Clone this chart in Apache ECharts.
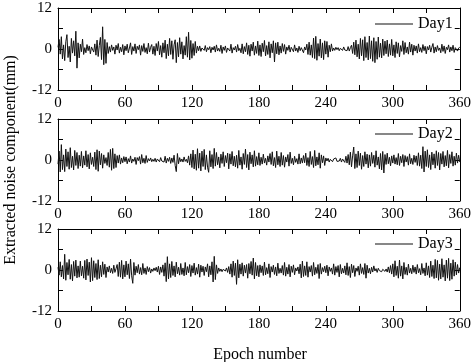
<!DOCTYPE html>
<html>
<head>
<meta charset="utf-8">
<script src="https://cdn.jsdelivr.net/npm/echarts@6/dist/echarts.min.js"></script>
<style>html,body{margin:0;padding:0;background:#fff}#c{width:474px;height:362px}</style>
</head>
<body>
<div id="c"></div>
<script>
const seriesNames = ['Day1', 'Day2', 'Day3'];
const xTickLabels = [0, 60, 120, 180, 240, 300, 360];
const yTickLabels = [-12, 0, 12];
const yTitle = 'Extracted noise component(mm)';
const xTitle = 'Epoch number';

const day1 = [
0.5, 2.8, -1.5, 3.6, -2.9, 1.2, -3.4, 2.1, 4.2, -2.5, 0.8, -3.8, 3.1, -1.2, 2.4, -2.0, 5.2, -5.6, 1.8, -2.6,
1.4, -0.8, 2.9, -1.6, 0.4, -1.1, 1.3, -0.5, 0.9, -1.4, 0.6, 0.2, -0.9, 1.5, -1.8, 2.6, -2.2, 1.0, 3.4, -3.1,
6.5, -4.6, 2.8, -4.2, 1.9, -1.3, 0.7, -0.9, 1.2, -0.4, 0.6, -1.5, 1.1, -0.3, 1.6, -1.2, 0.5, -0.8, 1.3, -1.7,
0.9, -0.5, 1.4, -1.1, 0.3, 1.8, -1.6, 0.7, -0.6, 1.5, -1.3, 0.8, -0.2, 1.2, -1.8, 1.0, -0.7, 1.6, -1.0, 0.4,
-1.4, 1.7, -0.9, 0.5, 1.3, -1.5, 0.8, -1.9, 1.6, -0.6, 2.2, -1.7, 1.0, -2.4, 1.8, -1.1, 2.6, -2.8, 1.4, -2.0,
3.1, -1.6, 2.4, -3.0, 1.2, 2.7, -4.0, 1.9, -2.3, 3.3, -1.5, 2.1, -2.9, 1.0, -1.8, 3.6, -2.4, 4.9, -3.2, 2.5,
-2.7, 1.6, -1.9, 2.2, -1.2, 0.8, -0.5, 0.9, -0.7, 0.3, 0.6, -0.4, 1.0, -0.8, 0.4, -0.2, 0.7, -1.1, 0.5, -0.3,
0.8, -0.9, 1.2, -0.6, 0.2, -0.7, 1.1, -1.3, 0.6, -0.4, 0.9, -1.0, 0.3, 0.5, -0.6, 1.4, -1.2, 0.4, -0.3, 0.8,
-0.9, 1.3, -0.5, 0.2, -1.1, 1.5, -1.4, 0.7, -0.8, 1.8, -1.6, 1.1, -2.1, 1.4, -0.6, 2.0, -1.8, 0.9, -1.3, 2.3,
-1.9, 1.2, -2.2, 1.7, -0.8, 2.5, -2.0, 1.0, -1.6, 2.1, -2.6, 1.5, -1.1, 2.4, -3.8, 1.8, -1.4, 2.0, -1.7, 0.9,
-1.2, 1.6, -0.7, 1.3, -1.5, 0.6, -0.4, 1.1, -0.9, 0.5, 0.2, -0.8, 1.2, -0.6, 0.3, -1.0, 0.8, -0.5, 0.4, 0.9,
-1.1, 0.6, -0.3, 1.4, -1.6, 2.0, -1.8, 1.2, -2.5, 3.2, -2.8, 3.7, -3.3, 1.6, -2.1, 2.9, -2.6, 1.8, -3.1, 2.4,
-1.5, 2.2, -2.4, 1.1, -0.8, 1.5, -0.6, 0.3, -0.4, 0.5, -0.2, 0.4, -0.5, 0.2, 0.3, -0.4, 0.6, -0.3, 0.1, -0.5,
0.7, -0.6, 0.4, 1.1, -1.3, 2.0, -1.7, 2.6, -2.3, 1.4, -2.9, 3.1, -2.0, 2.7, -3.4, 3.6, -2.5, 1.9, -3.2, 3.8,
-2.8, 2.4, -3.6, 3.3, -4.0, 2.2, -3.0, 3.5, -2.4, 1.7, -2.6, 2.9, -1.9, 2.3, -1.4, 2.6, -2.2, 1.5, -1.8, 2.8,
-2.0, 1.2, -2.5, 2.1, -1.3, 1.8, -2.3, 1.0, -0.7, 2.4, -1.6, 1.9, -1.1, 0.6, -1.5, 2.0, -0.9, 1.4, -1.8, 1.1,
-0.6, 0.9, -1.2, 1.5, -0.8, 0.4, -1.0, 1.3, -0.5, 0.8, -1.4, 0.7, -0.3, 1.1, -0.9, 0.5, 1.6, -1.2, 0.6, -0.8,
1.0, -0.4, 0.3, -1.1, 1.4, -0.7, 0.9, -1.3, 0.5, -0.2, 1.2, -0.9, 0.6, -0.5, 1.1, -1.0, 0.4, 0.8, -0.6, 0.3, 0.5
];

const day2 = [
-1.2, 2.6, -3.5, 4.5, -2.8, 1.5, -3.4, 3.2, -1.9, 2.4, -2.7, 3.6, -2.2, 1.1, -2.9, 2.8, -1.6, 2.2, -2.5, 1.4,
-1.8, 2.5, -2.3, 1.2, -1.5, 2.7, -2.0, 1.6, -2.6, 2.1, -1.3, 0.8, -1.9, 2.3, -2.8, 3.0, -3.3, 2.6, -1.4, 1.9,
-2.4, 1.5, -1.0, 0.7, -1.6, 2.2, -2.1, 3.1, -3.0, 3.4, -2.5, 1.8, -2.2, 1.3, -0.9, 1.5, -1.2, 0.6, -0.8, 1.0,
-0.5, 0.9, -1.1, 0.4, -0.6, 1.2, -0.9, 0.3, -0.4, 0.8, -1.3, 0.7, -0.2, 1.0, -1.2, 1.6, -0.8, 0.5, -1.0, 1.3,
-0.7, 0.4, -0.3, 0.6, -0.5, 0.2, -0.4, 0.5, -0.6, 0.3, 0.4, -0.5, 0.7, -0.3, 0.2, -0.6, 1.1, -0.9, 0.5, -0.4,
0.8, -1.0, 0.6, -0.7, 1.4, -1.6, -3.4, 1.9, -1.1, 0.7, -0.5, 0.3, -0.6, 0.9, -0.4, 0.2, -0.8, 1.2, -1.5, 1.8,
-2.2, 2.9, -2.6, 1.7, -3.0, 3.3, -2.4, 2.0, -3.2, 2.6, -1.9, 3.1, -2.8, 1.5, -2.1, -3.6, 2.7, -2.0, 1.6, -2.5,
3.4, -1.8, 2.2, -1.4, 0.9, -2.3, 1.7, -1.0, 2.4, -1.9, 1.3, -0.8, 2.0, -2.6, 1.8, -1.2, 2.5, -1.7, 1.1, -2.0,
1.4, -2.4, 2.8, -1.5, 0.9, -2.7, 1.9, -1.3, 3.2, -2.2, 1.6, -2.9, 2.3, -1.1, 1.5, -2.0, 2.7, -1.8, 1.0, -1.4,
2.1, -1.6, 0.8, -1.2, 1.7, -0.9, 0.5, -1.5, 1.2, -0.6, 1.9, -1.3, 2.4, -1.7, 0.7, -2.2, 2.6, -1.4, 1.1, -1.9,
2.2, -1.5, 1.3, -2.1, 0.9, -0.6, 1.6, -1.8, 2.3, -1.0, 0.5, -1.4, 1.1, -0.7, 0.4, -1.2, 1.8, -1.1, 0.6, -0.9,
1.3, -0.8, 2.0, -1.6, 0.7, -1.9, 2.5, -1.3, 1.0, -2.2, 2.8, -1.7, 0.9, -1.4, 2.1, -2.4, 1.5, -0.8, 1.2, -1.6,
0.6, -0.3, 0.5, -0.6, 0.2, 0.4, -0.5, 0.3, -0.2, 0.6, -0.4, 0.1, -0.3, 0.5, -0.6, 0.3, 0.8, -0.7, 1.1, -0.9,
1.6, -1.4, 2.3, -2.0, 1.2, 3.8, -2.5, 1.8, -2.2, 2.6, -1.6, 2.0, -2.7, 1.3, -1.9, 2.4, -1.2, 1.7, -2.3, 1.5,
-1.8, 2.2, -1.0, 1.4, -2.1, 2.7, -1.5, 0.9, -2.6, 1.9, -2.9, 2.5, -3.8, 1.6, -1.3, 2.0, -1.1, 0.8, -1.7, 1.2,
-0.9, 1.5, -1.2, 0.7, -1.4, 1.9, -1.6, 1.1, -0.8, 1.6, -1.9, 1.3, -0.6, 1.0, -1.5, 1.8, -1.1, 0.5, -1.3, 1.4,
-0.7, 1.2, -1.6, 2.1, -1.8, 1.4, -2.5, 3.9, -3.5, 2.6, -1.9, 3.0, -2.2, 1.5, -2.8, 2.3, -1.4, 1.8, -2.4, 2.7,
-1.6, 2.2, -2.9, 1.9, -1.2, 2.5, -2.0, 1.3, -1.7, 2.8, -2.3, 1.6, -1.0, 2.4, -1.8, 1.1, -1.5, 2.0, -0.9, 1.4, -0.6
];

const day3 = [
0.8, -1.5, 2.4, -2.0, 1.3, -2.6, 4.6, -3.0, 2.2, -1.4, 3.1, -2.7, 1.6, -3.2, 2.5, -1.8, 2.9, -2.3, 1.2, -2.1,
2.6, -1.7, 1.1, -2.4, 2.8, -2.9, 3.2, -1.6, 2.3, -3.5, 3.6, -3.1, 2.7, -2.2, 1.9, -2.8, 3.0, -2.5, 1.4, -2.0,
2.4, -1.3, 1.7, -2.2, 0.9, -0.6, 1.2, -0.8, 0.5, -1.0, 1.4, -0.7, 0.4, 1.6, -1.9, 2.3, -2.1, 2.8, -2.6, 1.5,
-2.0, 2.6, -1.4, 1.8, -2.5, 3.2, -1.7, -3.9, 2.2, -1.5, 1.1, -0.8, 1.6, -1.2, 0.7, -1.4, 1.9, -1.0, 0.6, -1.3,
1.0, -0.5, 0.7, -0.9, 0.3, -0.4, 0.6, -0.2, 0.8, -0.6, 1.1, -1.3, 0.9, -0.7, 1.5, -1.8, 2.1, -3.4, 3.9, -2.6,
1.8, -2.2, 2.5, -1.6, 1.2, -2.0, 2.3, -1.1, 0.8, -1.5, 1.9, -1.3, 0.6, -1.7, 2.2, -1.4, 1.0, -0.8, 1.6, -1.9,
1.3, -0.9, 2.0, -1.5, 0.7, -1.2, 1.7, -2.1, 1.4, -0.6, 1.1, -1.6, 0.9, -0.5, 1.8, -2.0, 1.2, -1.4, 2.4, -3.5,
4.0, -2.8, 1.5, -1.0, 0.6, -0.4, 0.3, -0.5, 0.2, 0.4, -0.3, 0.6, -0.7, 1.0, -1.2, 1.8, -2.1, 2.6, -1.6, 2.0,
-4.2, 3.0, -2.3, 1.7, -1.2, 2.1, -1.8, 1.4, -0.9, 1.6, -2.4, 1.9, -1.1, 2.5, -1.5, 3.5, -2.6, 2.2, -1.7, 1.3,
-2.0, 1.5, -0.8, 1.2, -1.6, 2.3, -1.4, 0.7, -1.1, 1.8, -2.2, 1.0, -0.6, 1.4, -1.3, 0.9, -1.7, 2.0, -1.0, 0.5,
-0.9, 1.3, -1.5, 2.2, -1.8, 0.8, -1.2, 1.6, -2.0, 1.1, -0.7, 1.5, -1.4, 0.6, -0.3, 0.9, -1.1, 1.7, -2.3, 2.6,
-1.9, 1.2, -1.6, 2.4, -2.1, 1.0, -0.6, 1.3, -1.8, 2.2, -1.4, 0.8, -1.0, 1.6, -2.5, 1.9, -1.2, 0.7, -0.5, 1.1,
-0.8, 1.4, -1.7, 0.9, -0.4, 0.6, -1.2, 1.8, -1.5, 1.0, -0.7, 1.3, -2.0, 1.6, -1.1, 0.5, -0.9, 1.2, -1.4, 2.1,
-1.6, 1.0, -2.2, 1.7, -0.8, 1.3, -1.9, 0.6, -0.4, 1.1, -1.5, 1.8, -1.0, 0.7, -1.3, 1.9, -2.4, 1.4, -0.9, 0.5,
-1.1, 0.8, -0.6, 1.2, -0.3, 0.4, -0.7, 0.5, -0.2, 0.3, -0.5, 0.2, 0.6, -0.4, 0.3, -0.6, 0.9, -0.8, 1.3, -1.2,
1.8, -2.0, 2.7, -1.6, 1.1, -2.4, 2.9, -1.8, 1.2, -2.6, 2.2, -1.3, 0.8, -1.5, 1.7, -0.9, 0.5, -1.1, 1.4, -0.7,
0.9, -1.2, 1.6, -0.8, 0.4, -1.4, 1.9, -1.0, 0.6, -1.7, 2.1, -1.5, 1.2, -2.2, 2.6, -1.9, 1.4, -2.5, 3.1, -2.3,
2.8, -3.0, 1.7, -2.6, 3.3, -2.1, 1.5, -3.2, 2.9, -2.4, 3.4, -3.1, 2.0, -2.7, 3.0, -1.8, 2.3, -1.4, 1.6, -0.9, 0.7
];

const allDays = [day1, day2, day3];
const FONT = 'Liberation Serif';
const gridTops = [8, 119, 229];
const legendTops = [11, 121, 231];
const GRID_H = 82;

const chart = echarts.init(document.getElementById('c'), null, {renderer: 'canvas'});

const grids = [], xAxes = [], yAxes = [], series = [], legends = [];
const axLine = {show: true, onZero: false, lineStyle: {color: '#000', width: 1}};
const tick = {show: true, inside: true, length: 5, lineStyle: {color: '#000', width: 1}};

gridTops.forEach((top, i) => {
  grids.push({left: 58, right: 10, top: top, height: GRID_H, containLabel: false});
  xAxes.push({
    type: 'value', gridIndex: i, position: 'bottom', min: 0, max: 360, interval: 30,
    axisLine: axLine, axisTick: tick, splitLine: {show: false},
    axisLabel: {
      show: true, margin: 6, color: '#000', fontFamily: FONT, fontSize: 15,
      formatter: v => xTickLabels.indexOf(v) >= 0 ? String(v) : ''
    }
  });
  xAxes.push({
    type: 'value', gridIndex: i, position: 'top', min: 0, max: 360, interval: 30,
    axisLine: axLine, axisTick: tick, axisLabel: {show: false}, splitLine: {show: false}
  });
  yAxes.push({
    type: 'value', gridIndex: i, position: 'left', min: -12, max: 12, interval: 6,
    axisLine: axLine, axisTick: tick, splitLine: {show: false},
    axisLabel: {
      show: true, margin: 6, color: '#000', fontFamily: FONT, fontSize: 15,
      formatter: v => yTickLabels.indexOf(v) >= 0 ? String(v) : ''
    }
  });
  yAxes.push({
    type: 'value', gridIndex: i, position: 'right', min: -12, max: 12, interval: 6,
    axisLine: axLine, axisTick: tick, axisLabel: {show: false}, splitLine: {show: false}
  });
  series.push({
    name: seriesNames[i], type: 'line', xAxisIndex: 2 * i, yAxisIndex: 2 * i,
    data: allDays[i].map((v, k) => [k, v]),
    showSymbol: false, symbol: 'none', animation: false,
    lineStyle: {color: '#111', width: 1}, itemStyle: {color: '#111'}
  });
  legends.push({
    data: [seriesNames[i]], left: 370, top: legendTops[i], orient: 'horizontal',
    icon: 'rect', itemWidth: 38, itemHeight: 1.2, itemGap: 5,
    textStyle: {color: '#000', fontFamily: FONT, fontSize: 16},
    selectedMode: false
  });
});

chart.setOption({
  animation: false,
  backgroundColor: '#fff',
  grid: grids, xAxis: xAxes, yAxis: yAxes, series: series, legend: legends,
  graphic: [
    {type: 'text', rotation: Math.PI / 2, x: 11, y: 160,
     style: {text: yTitle, fill: '#000', font: '16px "' + FONT + '"', textAlign: 'center', textVerticalAlign: 'middle'}},
    {type: 'text', x: 260, y: 355,
     style: {text: xTitle, fill: '#000', font: '16px "' + FONT + '"', textAlign: 'center', textVerticalAlign: 'middle'}}
  ]
});
</script>
</body>
</html>
